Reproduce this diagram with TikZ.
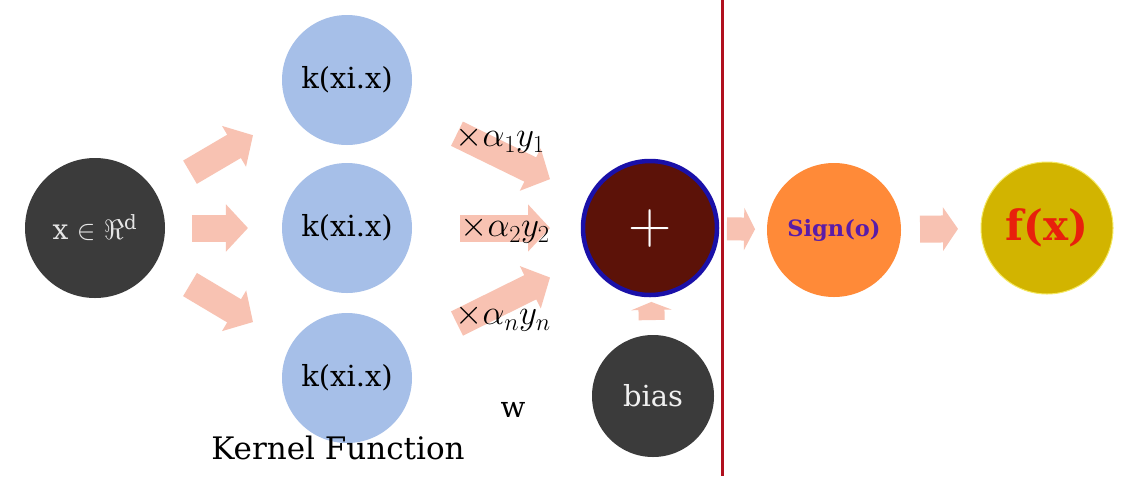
\RequirePackage{fix-cm}
\documentclass[tikz,border=0pt]{standalone}
\usepackage{fontspec}
\setmainfont{DejaVu Serif}
\usetikzlibrary{arrows.meta,calc}
\definecolor{cdark}{HTML}{3B3B3B}
\definecolor{ckern}{HTML}{A6BFE8}
\definecolor{cplus}{HTML}{5C1208}
\definecolor{cplusb}{HTML}{1A10A8}
\definecolor{csign}{HTML}{FF8A38}
\definecolor{cfx}{HTML}{D2B400}
\definecolor{cfxb}{HTML}{F4E860}
\definecolor{carrow}{HTML}{F8C2B2}
\definecolor{cline}{HTML}{B0101E}
\definecolor{csigntext}{HTML}{5A1CA8}
\definecolor{cfxtext}{HTML}{E8200C}
\begin{document}
\begin{tikzpicture}[x=1pt,y=-1pt,
  ball/.style={circle,inner sep=0pt,draw=none},
  barrow/.style={draw=carrow,line width=27pt,-{Triangle[width=46pt,length=22pt]}},
  lbl/.style={inner sep=0pt,font=\fontsize{29}{31}\selectfont},
  mlbl/.style={inner sep=0pt,font=\fontsize{35}{37}\selectfont}
]
\useasboundingbox[fill=white] (0,0) rectangle (1124,480);
% nodes
\node[ball,fill=cdark,minimum size=140pt,text=white!90!black,font=\fontsize{28}{30}\selectfont] (in) at (95,228) {x\hspace{0.3em}$\in$\hspace{0.3em}$\Re^{\mathrm{d}}$};
\node[ball,fill=ckern,minimum size=130pt,lbl] (k1) at (347,80) {k(xi.x)};
\node[ball,fill=ckern,minimum size=130pt,lbl] (k2) at (347,228) {k(xi.x)};
\node[ball,fill=ckern,minimum size=130pt,lbl] (k3) at (347,378) {k(xi.x)};
\node[circle,inner sep=0pt,fill=cplus,draw=cplusb,line width=4.5pt,minimum size=134pt,text=white,font=\fontsize{60}{60}\selectfont] (plus) at (650,228) {$+$};
\node[ball,fill=cdark,minimum size=122pt,lbl,text=white!94!black] (bias) at (653,396) {bias};
\node[ball,fill=csign,minimum size=134pt,text=csigntext,font=\fontsize{22.5}{24}\selectfont\bfseries] (sign) at (834,230) {Sign(o)};
\node[circle,inner sep=0pt,fill=cfx,draw=cfxb,line width=1pt,minimum size=132pt,text=cfxtext,font=\fontsize{42}{44}\selectfont\bfseries] (fx) at (1047,228) {f(x)};
% separator line
\coordinate (ltop) at (722,0);
\coordinate (lbot) at (722,476);
\draw[cline,line width=3pt] (ltop) -- (lbot);
% arrows
\draw[barrow] ($(in)!0.377!(k1)$) -- ($(in)!0.627!(k1)$);
\draw[barrow] ($(in)!0.385!(k2)$) -- ($(in)!0.607!(k2)$);
\draw[barrow] ($(in)!0.377!(k3)$) -- ($(in)!0.627!(k3)$);
\draw[barrow] ($(k1)!0.363!(plus)$) -- ($(k1)!0.67!(plus)$);
\draw[barrow] ($(k2)!0.373!(plus)$) -- ($(k2)!0.67!(plus)$);
\draw[barrow] ($(k3)!0.363!(plus)$) -- ($(k3)!0.67!(plus)$);
\draw[barrow,line width=26pt,-{Triangle[width=40pt,length=8pt]}] ($(bias)!0.452!(plus)$) -- ($(bias)!0.56!(plus)$);
\draw[barrow,line width=23pt,-{Triangle[width=42pt,length=11pt]}] ($(plus)!0.418!(sign)$) -- ($(plus)!0.571!(sign)$);
\draw[barrow,line width=27pt,-{Triangle[width=43pt,length=15pt]}] ($(sign)!0.404!(fx)$) -- ($(sign)!0.582!(fx)$);
% labels
\node[mlbl] (l1) at (500,140) {$\times\alpha_1 y_1$};
\node[mlbl] (l2) at (505,230) {$\times\alpha_2 y_2$};
\node[mlbl] (l3) at (503,318) {$\times\alpha_n y_n$};
\node[lbl] (w) at (513,410) {w};
\node[lbl,font=\fontsize{31}{33}\selectfont] (kf) at (338,448) {Kernel Function};
\end{tikzpicture}
\end{document}
